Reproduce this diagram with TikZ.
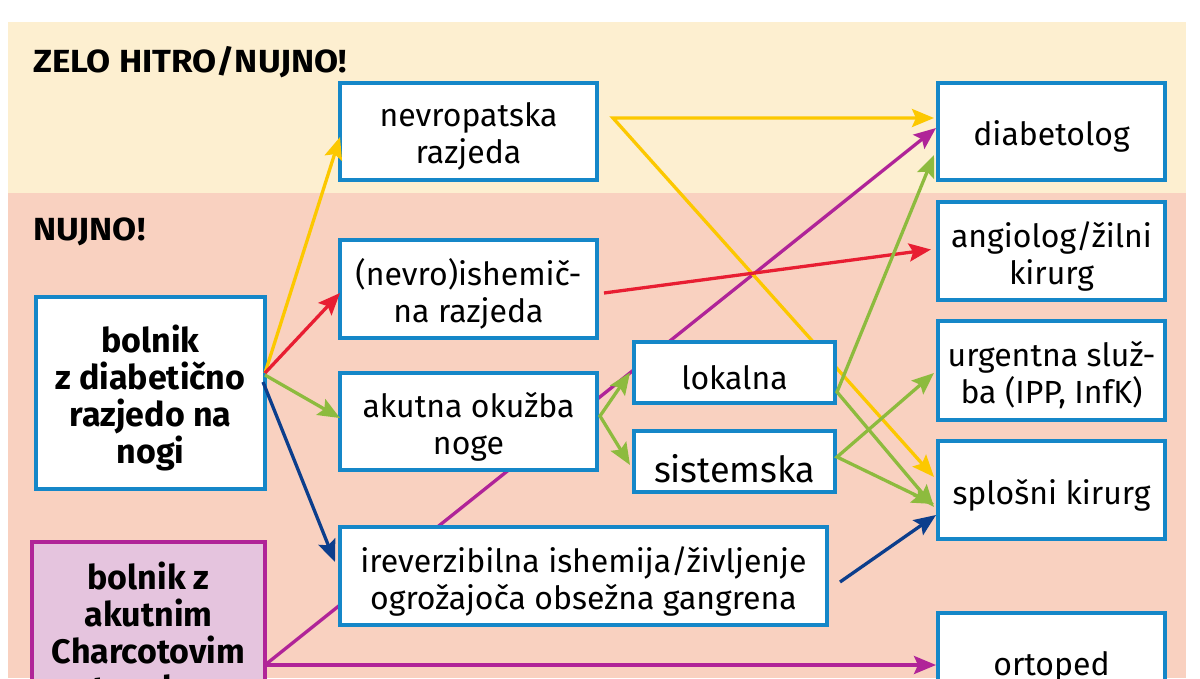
\documentclass[tikz,border=0pt]{standalone}
\usepackage{fontspec}
\setmainfont{Fira Sans}
\usetikzlibrary{arrows.meta,calc}
\pgfdeclarelayer{bg}
\pgfsetlayers{bg,main}
\definecolor{beigebg}{HTML}{FDEFD0}
\definecolor{pinkbg}{HTML}{F9D1C0}
\definecolor{boxblue}{HTML}{1587C8}
\definecolor{charfill}{HTML}{E5C4DE}
\definecolor{cyel}{HTML}{FCC800}
\definecolor{cred}{HTML}{E81E32}
\definecolor{cgrn}{HTML}{8DBB3E}
\definecolor{cnav}{HTML}{0C3E8C}
\definecolor{cpur}{HTML}{B02498}
\begin{document}
\begin{tikzpicture}[x=1pt,y=-1pt,
 box/.style={draw=boxblue,line width=3.4pt,fill=white,inner sep=0pt,outer sep=0pt},
 txt/.style={align=center,inner sep=0pt,font=\fontsize{32}{37}\selectfont,yshift=-5pt},
 btxt/.style={txt,font=\bfseries\fontsize{34}{37.3}\selectfont},
 bigtxt/.style={txt,font=\fontsize{36}{40}\selectfont,yshift=-2pt},
 head/.style={inner sep=0pt,font=\bfseries\fontsize{32}{36}\selectfont,anchor=base west},
 conn/.style={line width=3.3pt,-{Stealth[length=22pt,width=18pt,inset=4pt]}},
 conntwo/.style={line width=3.3pt,{Stealth[length=22pt,width=18pt,inset=4pt]}-{Stealth[length=22pt,width=18pt,inset=4pt]}},
]
\useasboundingbox (0,0) rectangle (1200,678);

% headings
\node[head] (h1) at (33,72) {\scalebox{1.09}[1]{ZELO HITRO/NUJNO!}};
\node[head] (h2) at (33,240) {\scalebox{1.09}[1]{NUJNO!}};

% left boxes
\node[box,minimum width=229pt,minimum height=192pt,
  label={[btxt,name=bolnikt]center:{bolnik\\z diabetično\\razjedo na\\nogi}}] (bolnik) at (150.5,393) {};
\node[box,draw=cpur,fill=charfill,minimum width=233pt,minimum height=176pt,
  label={[btxt,name=charcott]center:{bolnik z\\akutnim\\Charcotovim\\stopalom}}] (charcot) at (148.5,630) {};

% middle boxes
\node[box,minimum width=257pt,minimum height=97pt,
  label={[txt,name=nevrot]center:{nevropatska\\razjeda}}] (nevro) at (468.5,131.5) {};
\node[box,minimum width=257pt,minimum height=98pt,
  label={[txt,name=ischet]center:{(nevro)ishemič-\\na razjeda}}] (ische) at (468.5,289) {};
\node[box,minimum width=257pt,minimum height=97pt,
  label={[txt,name=akutnat]center:{akutna okužba\\noge}}] (akutna) at (468.5,421.5) {};
\node[box,minimum width=487pt,minimum height=98pt,
  label={[txt,name=irevt]center:{ireverzibilna ishemija/življenje\\ogrožajoča obsežna gangrena}}] (irev) at (583.5,576) {};
\node[box,minimum width=201pt,minimum height=61pt,
  label={[txt,name=lokalt]center:{lokalna}}] (lokal) at (734.5,372.5) {};
\node[box,minimum width=201pt,minimum height=61pt,
  label={[bigtxt,name=sistemt]center:{sistemska}}] (sistem) at (734.5,461.5) {};

% right boxes
\node[box,minimum width=227pt,minimum height=97pt,
  label={[txt,name=diabt]center:{diabetolog}}] (diab) at (1051.5,131.5) {};
\node[box,minimum width=227pt,minimum height=98pt,
  label={[txt,name=angiot]center:{angiolog/žilni\\kirurg}}] (angio) at (1051.5,251) {};
\node[box,minimum width=227pt,minimum height=99pt,
  label={[txt,name=urgentt]center:{urgentna služ-\\ba (IPP, InfK)}}] (urgent) at (1051.5,370.5) {};
\node[box,minimum width=227pt,minimum height=98pt,
  label={[txt,name=splitt]center:{splošni kirurg}}] (split) at (1051.5,490) {};
\node[box,minimum width=227pt,minimum height=98pt,
  label={[txt,name=ortopedt]center:{ortoped}}] (ortoped) at (1051.5,662) {};

% helper points
\coordinate (b1) at ($(bolnik.east)+(0,-20)$);
\coordinate (b2) at ($(bolnik.east)+(-2,-11)$);
\coordinate (c1) at ($(charcot.east)+(0,35)$);
\coordinate (y1) at ($(nevro.east)+(16,-13.5)$);
\coordinate (g1) at ($(akutna.east)+(3,-5.5)$);
\coordinate (g2) at ($(lokal.east)+(2,19.5)$);
\coordinate (g3) at ($(sistem.east)+(2,-4.5)$);

\begin{pgfonlayer}{bg}
  \fill[beigebg] (8,22) rectangle (1186,193);
  \fill[pinkbg] (8,193) rectangle (1186,678);
  % lines passing behind boxes
  \draw[conn,cpur] (c1) -- ($(diab.west)+(-2,-3.5)$);
  \draw[conntwo,cyel] ($(diab.west)+(-4,-13.5)$) -- (y1) -- ($(split.west)+(-4,-13)$);
\end{pgfonlayer}

% connectors
\draw[conn,cyel] (b1) -- ($(nevro.west)+(0,5.5)$);
\draw[conn,cred] (b1) -- ($(ische.west)+(0,4)$);
\draw[conn,cgrn] ($(bolnik.east)+(0,-18)$) -- ($(akutna.west)+(0,-3.5)$);
\draw[conn,cnav] (b2) -- ($(irev.west)+(-5,-14)$);
\draw[conn,cpur] (c1) -- ($(ortoped.west)+(-2,3)$);
\draw[conn,cred] ($(ische.east)+(7,4)$) -- ($(angio.west)+(-7,-1.5)$);
\draw[conntwo,cgrn] ($(lokal.west)+(-4,0)$) -- (g1) -- ($(sistem.west)+(-4,3.5)$);
\draw[conntwo,cgrn] ($(diab.west)+(-4,23.5)$) -- (g2) -- ($(split.west)+(-4,17)$);
\draw[conntwo,cgrn] ($(urgent.west)+(-4,2.5)$) -- (g3) -- ($(split.west)+(-4,14)$);
\draw[conn,cnav] ($(irev.east)+(13,6)$) -- ($(split.west)+(-2,25)$);
\end{tikzpicture}
\end{document}
